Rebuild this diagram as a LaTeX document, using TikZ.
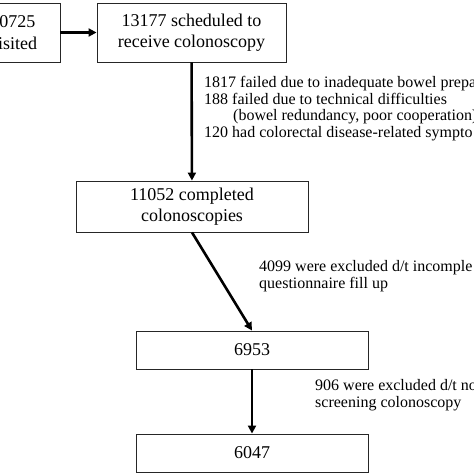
\documentclass[tikz,border=0pt]{standalone}
\usepackage{fontspec}
\setmainfont{Liberation Serif}
\usetikzlibrary{arrows.meta,positioning}
\tikzset{
  >={Triangle[length=8pt,width=8pt]},
  box/.style={draw=black!85, line width=0.9pt, align=center, inner sep=0pt, font=\fontsize{18}{21.5}\selectfont},
  note/.style={align=left, anchor=base west, inner sep=0pt, font=\fontsize{16}{16.4}\selectfont},
  flow/.style={->, line width=2.6pt},
}

\begin{document}
\begin{tikzpicture}[x=1pt,y=-1pt]
  \useasboundingbox (0,0) rectangle (474,474);
  \clip (0,0) rectangle (474,474);

  % boxes
  \node[box, minimum width=94pt, minimum height=59pt] (visit) at (13,32.5) {\phantom{2}0725\\\phantom{v}isited};
  \node[box, minimum width=189pt, minimum height=59pt] (sched) at (191.5,32.5) {13177 scheduled to\\receive colonoscopy};
  \node[box, minimum width=232pt, minimum height=51pt] (done) at (192,206.5) {11052 completed\\colonoscopies};
  \node[box, minimum width=232pt, minimum height=38pt] (quest) at (252,350) {6953};
  \node[box, minimum width=232pt, minimum height=38pt] (screen) at (252,453) {6047};

  % exclusion notes (base = last line)
  \node[note] (failnote) at (204,137) {1817 failed due to inadequate bowel prepa\\188 failed due to technical difficulties\\\hspace*{29pt}(bowel redundancy, poor cooperation)\\120 had colorectal disease-related sympto};
  \node[note] (questnote) at (259,288) {4099 were excluded d/t incomple\\questionnaire fill up};
  \node[note] (screennote) at (315,407) {906 were excluded d/t no\\screening colonoscopy};

  \draw[flow] (visit) -- (sched);
  \draw[flow] (sched) -- (done);
  \draw[flow] (done.south) -- (quest.north);
  \draw[flow] (quest) -- (screen);
\end{tikzpicture}
\end{document}
